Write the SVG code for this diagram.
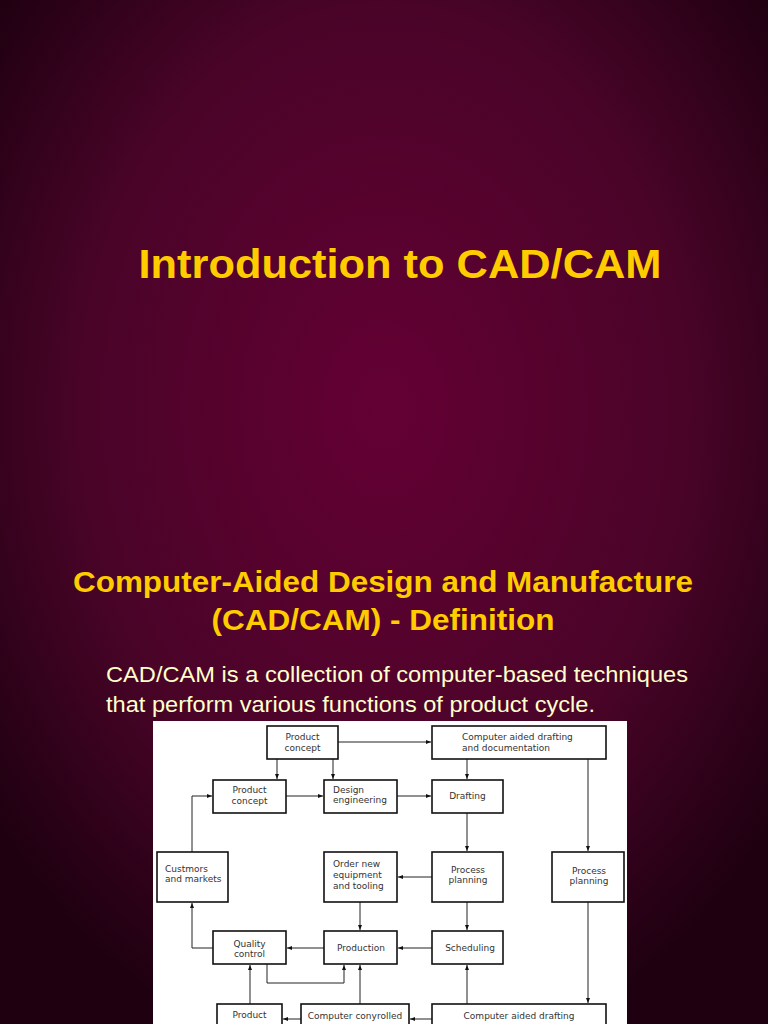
<svg xmlns="http://www.w3.org/2000/svg" width="768" height="1024" viewBox="0 0 768 1024">
<defs>
<radialGradient id="bg" cx="50%" cy="40%" r="65%">
<stop offset="0" stop-color="#640034"/>
<stop offset="0.6" stop-color="#4a0428"/>
<stop offset="1" stop-color="#1e0010"/>
</radialGradient>
<marker id="a" markerWidth="6" markerHeight="6" refX="5" refY="3" orient="auto" markerUnits="userSpaceOnUse">
<path d="M0,1 L5,3 L0,5 z" fill="#111"/>
</marker>
<style>
.t{font-family:"Liberation Sans",Arial,sans-serif;font-weight:bold;fill:#FFCC00}
.b{font-family:"Liberation Sans",Arial,sans-serif;fill:#FFFFCC;font-size:22px}
.n rect{fill:#fff;stroke:#111;stroke-width:1.6}
.n text{font-family:"DejaVu Sans",sans-serif;font-size:9px;fill:#333}
#connectors path{fill:none;stroke:#222;stroke-width:1;marker-end:url(#a)}
#connectors path.p{marker-end:none}
</style>
</defs>
<rect width="768" height="1024" fill="url(#bg)"/>
<text class="t" x="400" y="278" font-size="40" text-anchor="middle" textLength="523" lengthAdjust="spacingAndGlyphs">Introduction to CAD/CAM</text>
<text class="t" x="383" y="592" font-size="29" text-anchor="middle" textLength="620" lengthAdjust="spacingAndGlyphs">Computer-Aided Design and Manufacture</text>
<text class="t" x="383" y="630" font-size="29" text-anchor="middle" textLength="343" lengthAdjust="spacingAndGlyphs">(CAD/CAM) - Definition</text>
<text class="b" x="106" y="682" textLength="582" lengthAdjust="spacingAndGlyphs">CAD/CAM is a collection of computer-based techniques</text>
<text class="b" x="106" y="712" textLength="489" lengthAdjust="spacingAndGlyphs">that perform various functions of product cycle.</text>
<rect x="153" y="721" width="474" height="303" fill="#fff"/>
<g id="connectors">
<path d="M338,742 H431"/>
<path d="M277,759 V779"/>
<path d="M333,759 V779"/>
<path d="M467,759 V779"/>
<path d="M588,759 V851"/>
<path d="M286,796 H323"/>
<path d="M397,796 H431"/>
<path d="M467,813 V851"/>
<path d="M192,852 V796 H212"/>
<path d="M432,877 H398"/>
<path d="M360,902 V930"/>
<path d="M467,902 V930"/>
<path d="M432,948 H398"/>
<path d="M324,948 H287"/>
<path d="M213,948 H192 V903"/>
<path d="M267,964 V983 H344 V965"/>
<path d="M250,1004 V965"/>
<path d="M360,1004 V965"/>
<path d="M467,1004 V965"/>
<path d="M588,902 V1003"/>
<path d="M432,1019 H410"/>
<path d="M301,1019 H283"/>
</g>
<g id="n1" class="n"><rect x="267" y="726" width="71" height="33"/><text x="302.5" y="740" text-anchor="middle">Product</text><text x="302.5" y="751" text-anchor="middle">concept</text></g>
<g id="n2" class="n"><rect x="432" y="726" width="174" height="33"/><text x="462" y="740">Computer aided drafting</text><text x="462" y="751">and documentation</text></g>
<g id="n3" class="n"><rect x="213" y="780" width="73" height="33"/><text x="249.5" y="793" text-anchor="middle">Product</text><text x="249.5" y="804" text-anchor="middle">concept</text></g>
<g id="n4" class="n"><rect x="324" y="780" width="73" height="33"/><text x="333" y="793">Design</text><text x="333" y="803">engineering</text></g>
<g id="n5" class="n"><rect x="432" y="780" width="71" height="33"/><text x="467.5" y="799" text-anchor="middle">Drafting</text></g>
<g id="n6" class="n"><rect x="157" y="852" width="71" height="50"/><text x="165" y="872" font-size="7">Custmors</text><text x="165" y="882" font-size="7">and markets</text></g>
<g id="n7" class="n"><rect x="324" y="852" width="73" height="50"/><text x="333" y="867">Order new</text><text x="333" y="878">equipment</text><text x="333" y="889">and tooling</text></g>
<g id="n8" class="n"><rect x="432" y="852" width="71" height="50"/><text x="468" y="873" text-anchor="middle">Process</text><text x="468" y="883" text-anchor="middle">planning</text></g>
<g id="n9" class="n"><rect x="552" y="852" width="72" height="50"/><text x="589" y="874" text-anchor="middle">Process</text><text x="589" y="884" text-anchor="middle">planning</text></g>
<g id="n10" class="n"><rect x="213" y="931" width="73" height="33"/><text x="249.5" y="947" text-anchor="middle">Quality</text><text x="249.5" y="957" text-anchor="middle">control</text></g>
<g id="n11" class="n"><rect x="324" y="931" width="73" height="33"/><text x="361" y="951" text-anchor="middle">Production</text></g>
<g id="n12" class="n"><rect x="432" y="931" width="71" height="33"/><text x="470" y="951" text-anchor="middle">Scheduling</text></g>
<g id="n13" class="n"><rect x="217" y="1004" width="65" height="40"/><text x="249.5" y="1018" text-anchor="middle">Product</text></g>
<g id="n14" class="n"><rect x="301" y="1004" width="108" height="40"/><text x="355" y="1019" text-anchor="middle">Computer conyrolled</text></g>
<g id="n15" class="n"><rect x="432" y="1004" width="174" height="40"/><text x="519" y="1019" text-anchor="middle">Computer aided drafting</text></g>
</svg>
